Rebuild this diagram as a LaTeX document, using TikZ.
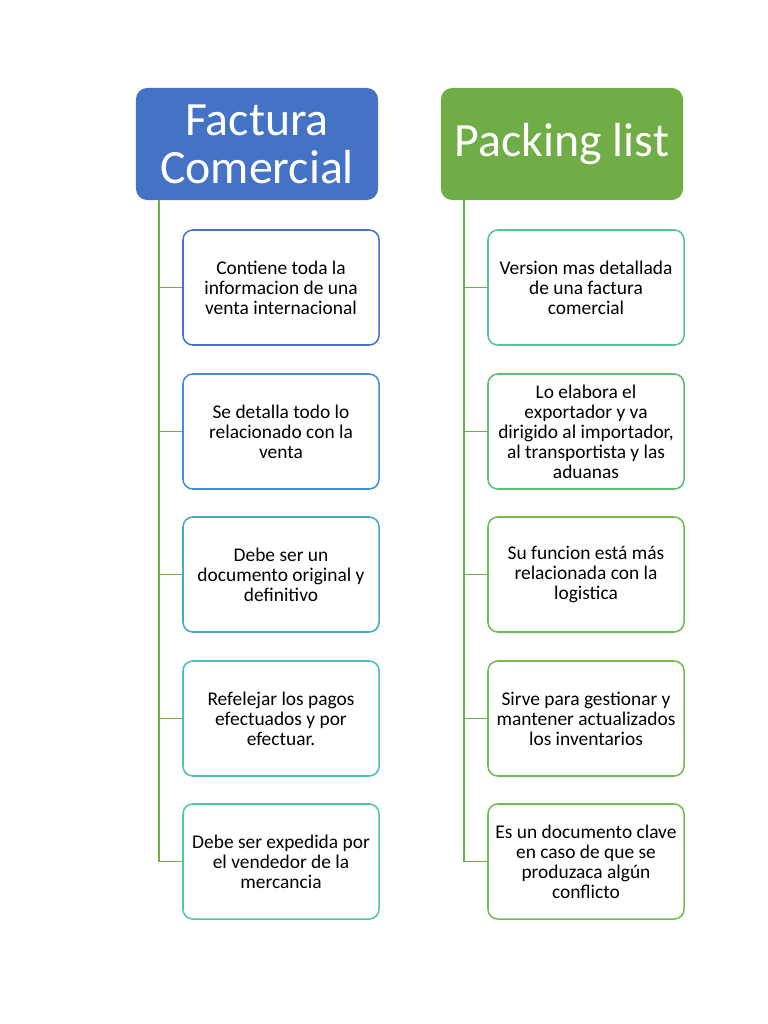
\documentclass[tikz,border=0pt]{standalone}
\usepackage{fontspec}
\setmainfont{Carlito}
\usepackage{tikz}
\usetikzlibrary{positioning, calc}
\definecolor{corAzul}{RGB}{68, 114, 196}
\definecolor{corVerde}{RGB}{112, 173, 71}
\definecolor{corL1}{RGB}{72, 114, 206}
\definecolor{corL2}{RGB}{64, 142, 214}
\definecolor{corL3}{RGB}{70, 166, 204}
\definecolor{corL4}{RGB}{75, 190, 192}
\definecolor{corL5}{RGB}{76, 200, 165}
\definecolor{corR1}{RGB}{88, 196, 143}
\definecolor{corR2}{RGB}{92, 192, 112}
\definecolor{corR3}{RGB}{104, 192, 84}
\definecolor{corR4}{RGB}{112, 190, 80}
\definecolor{corR5}{RGB}{112, 190, 80}

\begin{document}
\begin{tikzpicture}[
    x=0.025cm, y=-0.025cm,
    titulo/.style={rounded corners=8pt, minimum width=6.05cm, minimum height=2.8cm,
                   align=center, text=white, font=\fontsize{34}{34}\selectfont},
    item/.style={draw, line width=1.1pt, rounded corners=7pt, fill=white,
                 minimum width=4.9cm, minimum height=2.875cm, inner sep=2pt,
                 align=center, font=\fontsize{13.8}{14.2}\selectfont},
    conn/.style={draw=corVerde, line width=1.3pt}
]
\useasboundingbox (0,0) rectangle (768,1024);

\node[titulo, fill=corAzul] (fc) at (257,144) {Factura\\Comercial};
\node[titulo, fill=corVerde] (pl) at (562,144) {Packing list};

\node[item, draw=corL1] (f1) at (281,287.5) {Contiene toda la\\informacion de una\\venta internacional};
\node[item, draw=corL2] (f2) at (281,431.5) {Se detalla todo lo\\relacionado con la\\venta};
\node[item, draw=corL3] (f3) at (281,574.5) {Debe ser un\\documento original y\\definitivo};
\node[item, draw=corL4] (f4) at (281,718.5) {Refelejar los pagos\\efectuados y por\\efectuar.};
\node[item, draw=corL5] (f5) at (281,861.5) {Debe ser expedida por\\el vendedor de la\\mercancia};

\node[item, draw=corR1] (p1) at (586,287.5) {Version mas detallada\\de una factura\\comercial};
\node[item, draw=corR2] (p2) at (586,431.5) {Lo elabora el\\exportador y va\\dirigido al importador,\\al transportista y las\\aduanas};
\node[item, draw=corR3] (p3) at (586,574.5) {Su funcion está más\\relacionada con la\\logistica};
\node[item, draw=corR4] (p4) at (586,718.5) {Sirve para gestionar y\\mantener actualizados\\los inventarios};
\node[item, draw=corR5] (p5) at (586,861.5) {Es un documento clave\\en caso de que se\\produzaca algún\\conflicto};

% ramas
\draw[conn] ([xshift=0.575cm]fc.south west) |- (f1.west);
\draw[conn] ([xshift=0.575cm]fc.south west) |- (f2.west);
\draw[conn] ([xshift=0.575cm]fc.south west) |- (f3.west);
\draw[conn] ([xshift=0.575cm]fc.south west) |- (f4.west);
\draw[conn] ([xshift=0.575cm]fc.south west) |- (f5.west);

\draw[conn] ([xshift=0.575cm]pl.south west) |- (p1.west);
\draw[conn] ([xshift=0.575cm]pl.south west) |- (p2.west);
\draw[conn] ([xshift=0.575cm]pl.south west) |- (p3.west);
\draw[conn] ([xshift=0.575cm]pl.south west) |- (p4.west);
\draw[conn] ([xshift=0.575cm]pl.south west) |- (p5.west);
\end{tikzpicture}
\end{document}
